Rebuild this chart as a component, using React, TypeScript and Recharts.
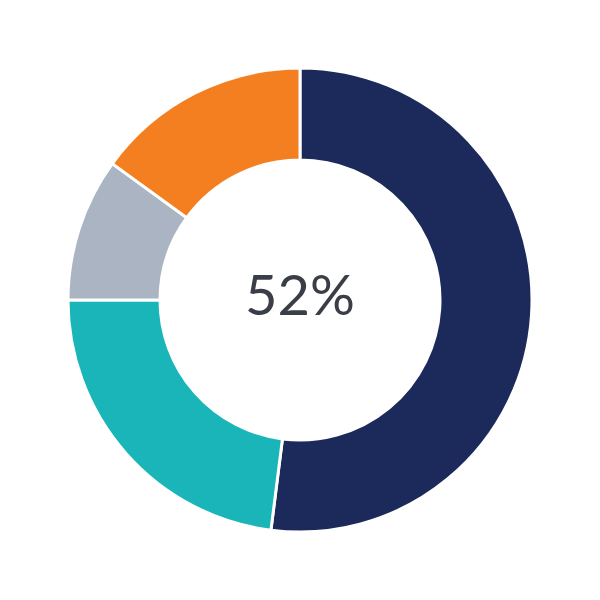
import React from 'react';
import { PieChart, Pie, Cell } from 'recharts';

const names = ['Navy', 'Teal', 'Gray', 'Orange'];
const values = [52, 23, 10, 15];
const colors = ['#1b2a5a', '#1ab5b8', '#aab4c3', '#f47f20'];
const centerLabel = '52%';

const data = names.map((name, i) => ({ name, value: values[i] }));

export default function App() {
  return (
    <div style={{ position: 'absolute', left: 0, top: 0 }}>
      <PieChart width={600} height={600}>
        <Pie
          data={data}
          dataKey='value'
          cx={295}
          cy={295}
          innerRadius={140}
          outerRadius={232}
          startAngle={90}
          endAngle={-270}
          stroke='#ffffff'
          strokeWidth={3}
          isAnimationActive={false}
        >
          {data.map((d, i) => (
            <Cell key={d.name} fill={colors[i]} />
          ))}
        </Pie>
        <text
          x={300}
          y={293}
          textAnchor='middle'
          dominantBaseline='central'
          fontFamily='Lato'
          fontSize={56}
          fill='#3a3f47'
        >
          {centerLabel}
        </text>
      </PieChart>
    </div>
  );
}
